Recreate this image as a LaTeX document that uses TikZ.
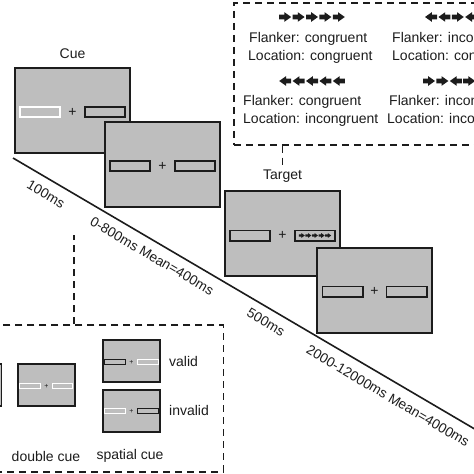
\documentclass[tikz,border=0pt]{standalone}
\usepackage{fontspec}
\setmainfont{Liberation Sans}
\definecolor{scr}{RGB}{190,190,190}
\definecolor{edge}{RGB}{28,28,28}
\begin{document}
\begin{tikzpicture}[x=1pt,y=-1pt,
  screen/.style={draw=edge, line width=2pt, fill=scr, inner sep=0, minimum width=115pt, minimum height=85pt},
  sscreen/.style={draw=edge, line width=1.8pt, fill=scr, inner sep=0, minimum width=57pt, minimum height=42pt},
  slot/.style={draw=edge, line width=1.6pt, fill=scr, inner sep=0, minimum width=40.4pt, minimum height=10.4pt},
  cueslot/.style={slot, draw=white},
  sslot/.style={draw=edge, line width=1.3pt, fill=scr, inner sep=0, minimum width=20.6pt, minimum height=5pt},
  scueslot/.style={sslot, draw=white},
  plussign/.style={inner sep=0, text=edge, font=\fontsize{14}{14}\selectfont},
  splussign/.style={inner sep=0, text=edge, font=\fontsize{7}{7}\selectfont},
  lbl/.style={inner sep=0, text=edge, font=\fontsize{14}{16}\selectfont},
  tlabel/.style={inner sep=0, text=edge, rotate=-30.4, font=\fontsize{13.7}{16}\selectfont},
  dashbox/.style={draw=edge, line width=1.5pt, dash pattern=on 7pt off 5pt},
  timeline/.style={draw=edge, line width=1.6pt},
  rarr/.pic={\fill[edge] (-6,-2.4) -- (-0.8,-2.4) -- (-0.8,-4.8) -- (6,0) -- (-0.8,4.8) -- (-0.8,2.4) -- (-6,2.4) -- cycle;},
  larr/.pic={\fill[edge] (6,-2.4) -- (0.8,-2.4) -- (0.8,-4.8) -- (-6,0) -- (0.8,4.8) -- (0.8,2.4) -- (6,2.4) -- cycle;},
]
\useasboundingbox (0,0) rectangle (474,474);
\clip (0,0) rectangle (474,474);

% timeline
\coordinate (t0) at (13,158);
\coordinate (t1) at (490,438);
\draw[timeline] (t0) -- (t1);
\node[tlabel] (l1) at (46,194) {100ms};
\node[tlabel] (l2) at (152,256) {0-800ms Mean=400ms};
\node[tlabel] (l3) at (266,322) {500ms};
\node[tlabel] (l4) at (388,396) {2000-12000ms Mean=4000ms};

% screens
\node[lbl] (cue) at (72.5,54) {Cue};
\node[screen] (s1) at (72.5,110.5) {};
\node[cueslot] (s1l) at (40,112) {};
\node[plussign] (s1p) at (72.5,112) {+};
\node[slot] (s1r) at (105,112) {};

\node[screen] (s2) at (162.5,164.5) {};
\node[slot] (s2l) at (130,166) {};
\node[plussign] (s2p) at (162.5,166) {+};
\node[slot] (s2r) at (195,166) {};

\node[lbl] (target) at (282.5,176) {Target};
\node[screen] (s3) at (282.5,233.5) {};
\node[slot] (s3l) at (250,235.5) {};
\node[plussign] (s3p) at (282.5,235.5) {+};
\node[slot] (s3r) at (315,235.5) {};
\foreach \i in {-2,...,2} \pic[scale=0.5] at (315+6.6*\i,235.5) {rarr};

\node[screen] (s4) at (374.5,290.5) {};
\node[slot] (s4l) at (342.5,291.5) {};
\node[plussign] (s4p) at (374.5,291.5) {+};
\node[slot] (s4r) at (406.5,291.5) {};

% flanker box
\node[dashbox, inner sep=0, minimum width=387pt, minimum height=142pt, anchor=north west] (flankbox) at (233,2) {};
\foreach \i in {0,...,4} \pic at (285.2+13.4*\i,17) {rarr};
\foreach \d [count=\i from 0] in {larr,larr,rarr,larr,larr} \pic at (431+13.4*\i,17) {\d};
\foreach \i in {0,...,4} \pic at (285.2+13.4*\i,81) {larr};
\foreach \d [count=\i from 0] in {rarr,rarr,larr,rarr,rarr} \pic at (429+13.4*\i,81) {\d};
\node[lbl, anchor=west] (f1a) at (249,39) {Flanker: congruent};
\node[lbl, anchor=west] (f1b) at (248,57) {Location: congruent};
\node[lbl, anchor=west] (f2a) at (392,39) {Flanker: incongruent};
\node[lbl, anchor=west] (f2b) at (392,57) {Location: congruent};
\node[lbl, anchor=west] (f3a) at (243,102) {Flanker: congruent};
\node[lbl, anchor=west] (f3b) at (243,119.5) {Location: incongruent};
\node[lbl, anchor=west] (f4a) at (389,102) {Flanker: incongruent};
\node[lbl, anchor=west] (f4b) at (387,119.5) {Location: incongruent};
\draw[dashbox] (flankbox.south -| target.north) -- ([yshift=4pt]target.north);

% cue types box
\node[dashbox, inner sep=0, minimum width=300pt, minimum height=147pt, anchor=north east] (cuebox) at (224,324) {};
\coordinate (cuelink) at (74,235);
\draw[dashbox] (cuebox.north -| cuelink) -- (cuelink);

\node[sscreen] (n0) at (-27,385) {};

\node[sscreen] (dc) at (46.5,385) {};
\node[scueslot] (dcl) at (30,386) {};
\node[splussign] (dcp) at (46.5,386) {+};
\node[scueslot] (dcr) at (62.5,386) {};
\node[lbl] (dclab) at (46,456) {double cue};

\node[sscreen] (va) at (131.5,361) {};
\node[sslot] (val) at (115,362) {};
\node[splussign] (vap) at (131.5,362) {+};
\node[scueslot] (var) at (148,362) {};
\node[lbl, anchor=west] (valab) at (169,361) {valid};

\node[sscreen] (iv) at (131.5,411) {};
\node[scueslot] (ivl) at (115,411) {};
\node[splussign] (ivp) at (131.5,411) {+};
\node[sslot] (ivr) at (148,411) {};
\node[lbl, anchor=west] (ivlab) at (169,410) {invalid};
\node[lbl] (sclab) at (130,456) {spatial cue};
\end{tikzpicture}
\end{document}
